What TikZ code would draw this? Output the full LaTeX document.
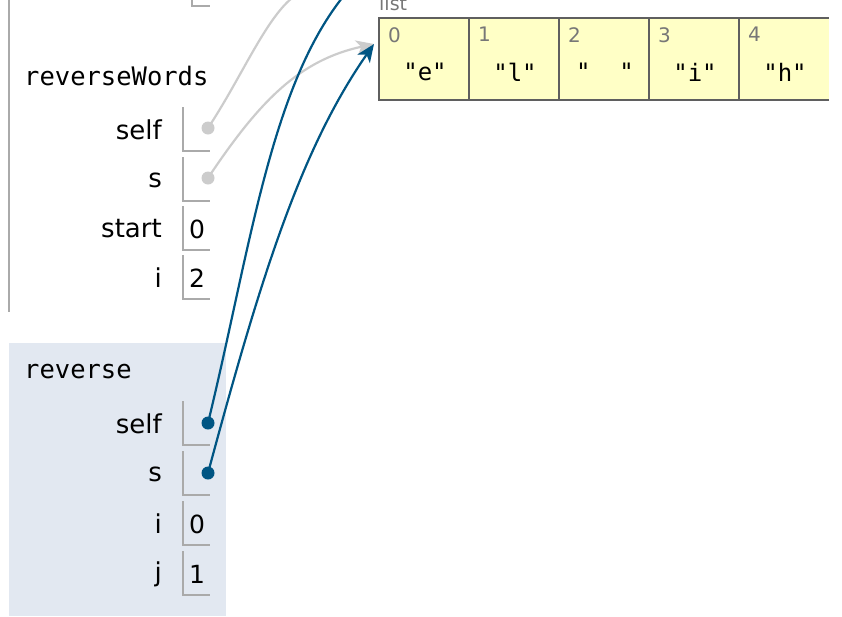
\documentclass[tikz,border=0pt]{standalone}
\usepackage{fontspec}
\setmainfont{DejaVu Sans}
\newfontfamily\monof{DejaVu Sans Mono}
\usetikzlibrary{arrows.meta}
\definecolor{frameg}{HTML}{AAAAAA}
\definecolor{ptrblue}{HTML}{005583}
\definecolor{ptrgray}{HTML}{CCCCCC}
\definecolor{framebg}{HTML}{E2E8F1}
\definecolor{listbg}{HTML}{FFFFC6}
\definecolor{idxg}{HTML}{777777}
\tikzset{
  lbl/.style={anchor=east,font=\fontsize{26}{26}\selectfont,inner sep=0pt},
  fname/.style={anchor=west,font=\monof\fontsize{25.5}{25.5}\selectfont,inner sep=0pt},
  val/.style={anchor=west,font=\fontsize{25}{25}\selectfont,inner sep=0pt},
  cellline/.style={draw=frameg,line width=2pt},
  lval/.style={font=\monof\fontsize{24}{24}\selectfont,inner sep=0pt},
  idx/.style={anchor=north west,font=\fontsize{20}{20}\selectfont,text=idxg,inner sep=0pt},
  dotb/.style={circle,fill=ptrblue,inner sep=0pt,minimum size=13pt},
  dotg/.style={circle,fill=ptrgray,inner sep=0pt,minimum size=13pt},
  pb/.style={draw=ptrblue,line width=2.2pt},
  pg/.style={draw=ptrgray,line width=2.2pt},
  tip/.style={-{Stealth[length=18pt,width=15pt,inset=5pt]}},
}
\begin{document}
\begin{tikzpicture}[x=1pt,y=-1pt]
\useasboundingbox (0,0) rectangle (842,616);
% top remnant
\draw[cellline] (9,0) -- (9,50);
\draw[cellline] (192,0) -- (192,6) -- (210,6);
% reverseWords frame
\draw[cellline] (9,48) -- (9,312);
\node[fname] (rw) at (24,76) {reverseWords};
\foreach \n/\t/\y in {rwself/self/130,rws/s/180,rwstart/start/229,rwi/i/278}{
  \node[lbl] (\n) at (162,\y) {\t};
  \draw[cellline] (183,\y-23) -- (183,\y+21) -- (210,\y+21);
}
\node[val] (v0) at (189,229) {0};
\node[val] (v2) at (189,278) {2};
\node[dotg] (dg1) at (208,128) {};
\node[dotg] (dg2) at (208,178) {};
% reverse frame
\fill[framebg] (9,343) rectangle (226,616);
\node[fname] (rv) at (24,372) {reverse};
\foreach \n/\t/\y in {rself/self/424,rs/s/474,ri/i/524,rj/j/574}{
  \node[lbl] (\n) at (162,\y) {\t};
  \draw[cellline] (183,\y-23) -- (183,\y+21) -- (210,\y+21);
}
\node[val] (v00) at (189,524) {0};
\node[val] (v1) at (189,574) {1};
\node[dotb] (db1) at (208,423) {};
\node[dotb] (db2) at (208,473) {};
% list
\node[anchor=south west,font=\fontsize{19}{19}\selectfont,text=idxg,inner sep=0pt] (ll) at (379,11) {list};
\fill[listbg] (379,18) rectangle (829,100);
\draw[draw=idxg!80!black,line width=2.5pt] (829,100) -- (379,100) -- (379,18) -- (829,18);
\foreach \i/\v in {0/"e",1/"l",2/"\ \ ",3/"i",4/"h"}{
  \pgfmathsetmacro\xx{379+90*\i}
  \ifnum\i<4 \draw[draw=idxg!80!black,line width=2.5pt] (\xx+90,18) -- (\xx+90,100);\fi
  \node[idx] at (\xx+9,27) {\i};
  \node[lval] (c\i) at (\xx+46,72) {\v};
}
\coordinate (lt) at (374,44);
\coordinate (off1) at (292,-2);
\coordinate (off2) at (342,-2);
% pointers
\draw[pg] (dg1.center) .. controls (240,80) and (265,20) .. (off1);
\draw[pg,tip] (dg2.center) .. controls (260,100) and (300,60) .. (lt);
\draw[pb] (db1.center) .. controls (250,250) and (270,90) .. (off2);
\draw[pb,tip] (db2.center) .. controls (260,280) and (300,150) .. (lt);
\end{tikzpicture}
\end{document}
